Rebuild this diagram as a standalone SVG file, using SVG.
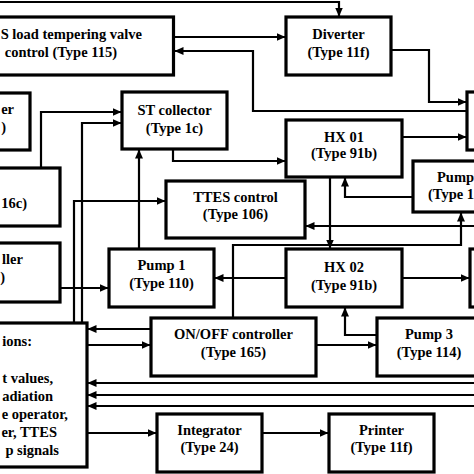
<svg xmlns="http://www.w3.org/2000/svg" width="474" height="474" viewBox="0 0 474 474">
<style>
.box{fill:#fff;stroke:#000;stroke-width:3.2}
.c{fill:none;stroke:#000;stroke-width:2.2}
.a{marker-end:url(#ah)}
text{font-family:"Liberation Serif","Times New Roman",serif;font-weight:bold;font-size:14.5px;fill:#000}
.m{text-anchor:middle}
.e{text-anchor:end}
</style>
<defs>
<marker id="ah" markerWidth="9" markerHeight="8" refX="8.5" refY="4" orient="auto" markerUnits="userSpaceOnUse"><path d="M0,0 L9,4 L0,8 z" fill="#000"/></marker>
</defs>
<rect width="474" height="474" fill="#fff"/>
<g id="connectors">
<path class="c a" d="M0,2 H339 V16"/>
<path class="c a" d="M174,37 H285"/>
<path class="c a" d="M466,111 H253 V51 H175"/>
<path class="c a" d="M392,50 H429 V102 H466"/>
<path class="c a" d="M403,137 H466"/>
<path class="c a" d="M173,150 V161 H285"/>
<path class="c a" d="M412,197 H345 V178"/>
<path class="c a" d="M330,178 V248"/>
<path class="c a" d="M474,226 H306"/>
<path class="c a" d="M233,317 V245 H461 V213"/>
<path class="c a" d="M285,278 H215"/>
<path class="c a" d="M403,278 H469"/>
<path class="c a" d="M139,248 V150"/>
<path class="c a" d="M61,288 H108"/>
<path class="c a" d="M41,167 V112 H121"/>
<path class="c a" d="M82,322 V123 H121"/>
<path class="c a" d="M74,322 V201 H165"/>
<path class="c a" d="M150,329 H88"/>
<path class="c a" d="M88,345 H150"/>
<path class="c a" d="M376,335 H345 V308"/>
<path class="c a" d="M317,345 H376"/>
<path class="c a" d="M474,383 H88"/>
<path class="c a" d="M474,395 H88"/>
<path class="c a" d="M474,406 H88"/>
<path class="c a" d="M88,433 H156"/>
<path class="c a" d="M263,433 H328"/>
</g>
<g id="tempering-valve"><rect class="box" x="-10" y="17" width="183.5" height="58"/><text class="e" x="142" y="39">S load tempering valve</text><text class="e" x="117" y="57">control (Type 115)</text></g>
<g id="diverter"><rect class="box" x="286" y="17" width="105" height="58"/><text class="m" x="338.5" y="39">Diverter</text><text class="m" x="338.5" y="57">(Type 11f)</text></g>
<g id="st-collector"><rect class="box" x="122" y="92" width="105" height="57"/><text class="m" x="174.5" y="115">ST collector</text><text class="m" x="174.5" y="133">(Type 1c)</text></g>
<g id="box-er"><rect class="box" x="-10" y="93" width="40" height="57"/><text class="e" x="14" y="114">er</text><text class="e" x="6" y="132">)</text></g>
<g id="hx01"><rect class="box" x="286" y="120" width="116" height="57"/><text class="m" x="344" y="142">HX 01</text><text class="m" x="344" y="158">(Type 91b)</text></g>
<g id="right-box-1"><rect class="box" x="467" y="92" width="20" height="58"/></g>
<g id="box-16c"><rect class="box" x="-10" y="168" width="70" height="58"/><text class="e" x="27" y="208">16c)</text></g>
<g id="ttes-control"><rect class="box" x="166" y="181" width="139" height="57"/><text class="m" x="235.5" y="202">TTES control</text><text class="m" x="235.5" y="219">(Type 106)</text></g>
<g id="pump2"><rect class="box" x="413" y="161" width="80" height="51"/><text x="437" y="182">Pump</text><text x="428" y="199">(Type 1</text></g>
<g id="controller"><rect class="box" x="-10" y="243" width="70" height="59"/><text class="e" x="23" y="264">ller</text><text class="e" x="5" y="282">)</text></g>
<g id="pump1"><rect class="box" x="109" y="249" width="105" height="58"/><text class="m" x="161.5" y="270">Pump 1</text><text class="m" x="161.5" y="288">(Type 110)</text></g>
<g id="hx02"><rect class="box" x="286" y="249" width="116" height="58"/><text class="m" x="344" y="272">HX 02</text><text class="m" x="344" y="290">(Type 91b)</text></g>
<g id="right-box-2"><rect class="box" x="470" y="249" width="20" height="58"/></g>
<g id="simulation"><rect class="box" x="-10" y="323" width="97" height="144"/>
<text class="e" x="32" y="346">ions:</text>
<text class="e" x="53" y="383">t values,</text>
<text class="e" x="53" y="401">adiation</text>
<text class="e" x="68" y="419">e operator,</text>
<text class="e" x="57" y="437">er, TTES</text>
<text class="e" x="59" y="455">p signals</text></g>
<g id="onoff"><rect class="box" x="151" y="318" width="165" height="58"/><text class="m" x="233.5" y="339">ON/OFF controller</text><text class="m" x="233.5" y="357">(Type 165)</text></g>
<g id="pump3"><rect class="box" x="377" y="318" width="104" height="58"/><text class="m" x="429" y="339">Pump 3</text><text class="m" x="429" y="357">(Type 114)</text></g>
<g id="integrator"><rect class="box" x="157" y="414" width="105" height="58"/><text class="m" x="209.5" y="435">Integrator</text><text class="m" x="209.5" y="452">(Type 24)</text></g>
<g id="printer"><rect class="box" x="329" y="414" width="105" height="58"/><text class="m" x="381.5" y="435">Printer</text><text class="m" x="381.5" y="452">(Type 11f)</text></g>
</svg>
